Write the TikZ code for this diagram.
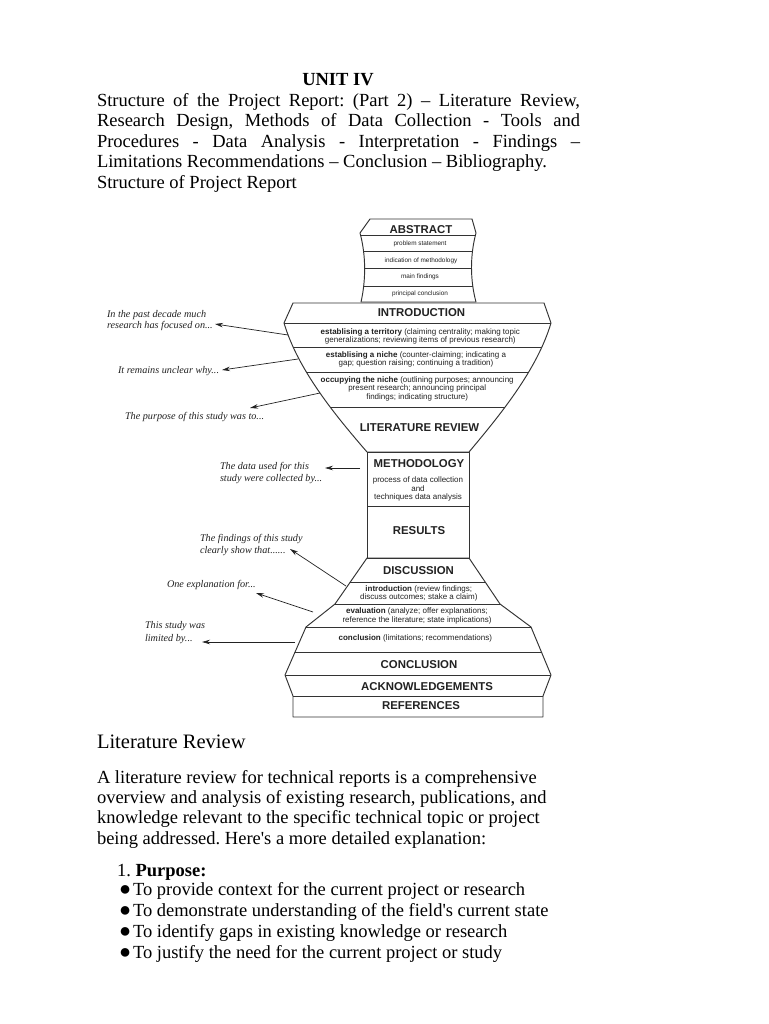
\documentclass[tikz,border=0pt]{standalone}
\usepackage{fontspec}
\setmainfont{Liberation Serif}
\setsansfont{Liberation Sans}
\usetikzlibrary{arrows.meta}
\definecolor{ink}{HTML}{222222}
\definecolor{linec}{HTML}{333333}
\frenchspacing
\newcommand{\sq}{{\addfontfeature{Ligatures=TeXOff}'}}
\newcommand{\blt}{\makebox[14pt][l]{\fontsize{20}{20}\selectfont ●}}
\begin{document}
\begin{tikzpicture}[x=1pt,y=-1pt,
  every node/.style={inner sep=0pt, outer sep=0pt},
  body/.style={font=\fontsize{18.5}{20.5}\selectfont, anchor=base west},
  ttl/.style={font=\sffamily\bfseries\fontsize{11.4}{12}\selectfont, anchor=base, text=ink},
  sm/.style={font=\sffamily\fontsize{8}{8.5}\selectfont, align=center, text=ink},
  tn/.style={font=\sffamily\fontsize{6.4}{7}\selectfont, anchor=base, text=ink},
  note/.style={font=\itshape\fontsize{10.2}{11.5}\selectfont, align=left, anchor=west, text=ink},
  band/.style={draw=linec, line width=0.95pt, line join=round},
  sepl/.style={draw=linec, line width=0.85pt},
  arr/.style={draw=ink, line width=0.7pt, -{Stealth[length=8pt,width=4.5pt]}}
]
\useasboundingbox (0,0) rectangle (768,1024);
\fill[white] (0,0) rectangle (768,1024);

% ---------- heading text ----------
\node[body, font=\bfseries\fontsize{18.5}{20.5}\selectfont, anchor=base] (unit) at (338,86) {UNIT IV};
\node[body] (l1) at (97,106.5) {\makebox[483pt][s]{Structure of the Project Report: (Part 2) – Literature Review,}};
\node[body] (l2) at (97,127) {\makebox[483pt][s]{Research Design, Methods of Data Collection - Tools and}};
\node[body] (l3) at (97,147.5) {\makebox[483pt][s]{Procedures - Data Analysis - Interpretation - Findings –}};
\node[body] (l4) at (97,168) {Limitations Recommendations – Conclusion – Bibliography.};
\node[body] (l5) at (97,188.5) {Structure of Project Report};

% ---------- abstract ----------
\def\abspath{(370,219) -- (472,219) -- (476,233) .. controls (470,255) and (470,280) .. (476,302) -- (361,302) .. controls (366,280) and (366,255) .. (360,233) -- cycle}
\begin{scope}
  \clip \abspath;
  \foreach \yy in {235,251,268,286} \draw[sepl] (340,\yy) -- (500,\yy);
\end{scope}
\path[band] \abspath;

% ---------- introduction funnel ----------
\def\funpath{(293,303) -- (544,303) -- (551,323) .. controls (537,370) and (500,415) .. (469,452) -- (367,452) .. controls (335,415) and (298,370) .. (284,323) -- cycle}
\begin{scope}
  \clip \funpath;
  \foreach \yy in {323,347,372,407} \draw[sepl] (270,\yy) -- (570,\yy);
\end{scope}
\path[band] \funpath;

% ---------- methodology / results ----------
\path[band] (367,452) rectangle (469,558);
\draw[sepl] (367,506) -- (469,506);

% ---------- discussion base ----------
\def\basepath{(367,558) -- (469,558) -- (500,604) -- (531,627) -- (551,675) -- (543,696) -- (543,717) -- (293,717) -- (293,696) -- (285,675) -- (306,627) -- (335,604) -- cycle}
\begin{scope}
  \clip \basepath;
  \foreach \yy in {582,604,627,652,675,696} \draw[sepl] (270,\yy) -- (570,\yy);
\end{scope}
\path[band] \basepath;

% ---------- diagram labels ----------
\node[ttl] (abs) at (421,233.1) {ABSTRACT};
\node[tn] (ps) at (420,245) {problem statement};
\node[tn] (im) at (421,262.5) {indication of methodology};
\node[tn] (mf) at (420,278.5) {main findings};
\node[tn] (pc) at (420,295) {principal conclusion};

\node[ttl] (intro) at (421.5,316.8) {INTRODUCTION};
\node[sm] (terr) at (420.3,336.5) {\textbf{establising a territory} (claiming centrality; making topic\\generalizations; reviewing items of previous research)};
\node[sm] (niche) at (416,359.2) {\textbf{establising a niche} (counter-claiming; indicating a\\gap; question raising; continuing a tradition)};
\node[sm] (occ) at (417.2,388.7) {\textbf{occupying the niche} (outlining purposes; announcing\\present research; announcing principal\\findings; indicating structure)};
\node[ttl] (lit) at (419.5,431.4) {LITERATURE REVIEW};

\node[ttl] (meth) at (419,467.4) {METHODOLOGY};
\node[sm] (proc) at (418,489) {process of data collection\\and\\techniques data analysis};
\node[ttl] (res) at (419,534.1) {RESULTS};

\node[ttl] (disc) at (418.5,574.1) {DISCUSSION};
\node[sm] (dint) at (418.8,593.3) {\textbf{introduction} (review findings;\\discuss outcomes; stake a claim)};
\node[sm] (deval) at (417,615.8) {\textbf{evaluation} (analyze; offer explanations;\\reference the literature; state implications)};
\node[sm] (dconc) at (415.3,638.3) {\textbf{conclusion} (limitations; recommendations)};
\node[ttl] (conc) at (419,668.1) {CONCLUSION};
\node[ttl] (ack) at (427,690.8) {ACKNOWLEDGEMENTS};
\node[ttl] (ref) at (421,709.1) {REFERENCES};

% ---------- annotations ----------
\node[note] (n1) at (107,320.5) {In the past decade much\\research has focused on...};
\node[note] (n2) at (118,370.7) {It remains unclear why...};
\node[note] (n3) at (125,417.3) {The purpose of this study was to...};
\node[note, font=\itshape\fontsize{10.2}{12.5}\selectfont] (n4) at (220,473) {The data used for this\\study were collected by...};
\node[note] (n5) at (200,545) {The findings of this study\\clearly show that......};
\node[note] (n6) at (167,585) {One explanation for...};
\node[note, font=\itshape\fontsize{10.2}{12.5}\selectfont] (n7) at (145,632.5) {This study was\\limited by...};

\coordinate (a1s) at (288,335); \coordinate (a1e) at (215,324);
\coordinate (a2s) at (298,359); \coordinate (a2e) at (222,370);
\coordinate (a3s) at (320,393); \coordinate (a3e) at (250,408);
\coordinate (a4s) at (360,468); \coordinate (a4e) at (325,468);
\coordinate (a5s) at (346,586); \coordinate (a5e) at (290,549);
\coordinate (a6s) at (313,612); \coordinate (a6e) at (256,593);
\coordinate (a7s) at (295,642); \coordinate (a7e) at (202,642);
\foreach \k in {1,...,7} \draw[arr] (a\k s) -- (a\k e);

% ---------- lower text ----------
\node[body, font=\fontsize{20.5}{22}\selectfont] (lr) at (97,748) {Literature Review};
\node[body] (p1) at (97,783) {A literature review for technical reports is a comprehensive};
\node[body] (p2) at (97,803) {overview and analysis of existing research, publications, and};
\node[body] (p3) at (97,823.5) {knowledge relevant to the specific technical topic or project};
\node[body] (p4) at (97,844) {being addressed. Here\sq s a more detailed explanation:};
\node[body] (pur) at (117,876) {1. \textbf{Purpose:}};
\node[body] (b1) at (119,895.5) {\blt To provide context for the current project or research};
\node[body] (b2) at (119,916.5) {\blt To demonstrate understanding of the field\sq s current state};
\node[body] (b3) at (119,937) {\blt To identify gaps in existing knowledge or research};
\node[body] (b4) at (119,958) {\blt To justify the need for the current project or study};
\end{tikzpicture}
\end{document}
